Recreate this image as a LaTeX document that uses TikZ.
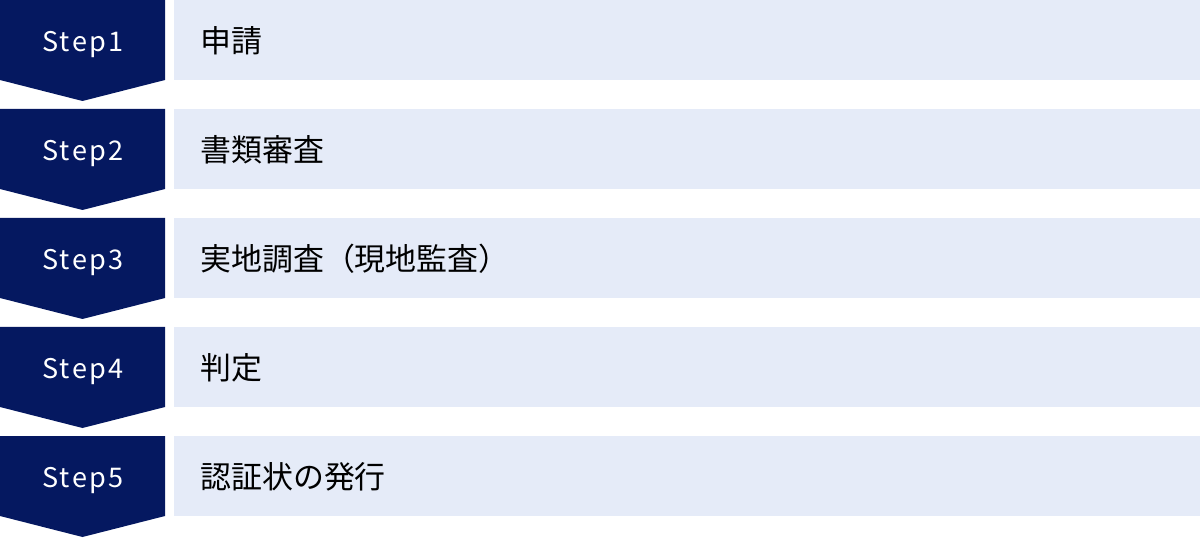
\documentclass[tikz,border=0pt]{standalone}
\usepackage{fontspec}
\setmainfont{Noto Sans CJK JP}
\newfontfamily\stepfont[LetterSpace=9]{Noto Sans CJK JP}
\usepackage{xcolor}
\usepackage{tikz}
\definecolor{stepnavy}{RGB}{5,24,96}
\definecolor{rowblue}{RGB}{229,235,248}

\begin{document}
\begin{tikzpicture}[x=0.75pt,y=0.75pt,yscale=-1,xscale=1]
\path (0,0) rectangle (1200,538); %set diagram size

%Shape: Chevron [id:step1]
\fill [stepnavy] (0,0) -- (165,0) -- (165,80) -- (82.5,101) -- (0,80) -- cycle ;
%Shape: Rectangle [id:row1]
\fill [rowblue] (174,0) rectangle (1200,80) ;
%Shape: Chevron [id:step2]
\fill [stepnavy] (0,109) -- (165,109) -- (165,189) -- (82.5,210) -- (0,189) -- cycle ;
%Shape: Rectangle [id:row2]
\fill [rowblue] (174,109) rectangle (1200,189) ;
%Shape: Chevron [id:step3]
\fill [stepnavy] (0,218) -- (165,218) -- (165,298) -- (82.5,319) -- (0,298) -- cycle ;
%Shape: Rectangle [id:row3]
\fill [rowblue] (174,218) rectangle (1200,298) ;
%Shape: Chevron [id:step4]
\fill [stepnavy] (0,327) -- (165,327) -- (165,407) -- (82.5,428) -- (0,407) -- cycle ;
%Shape: Rectangle [id:row4]
\fill [rowblue] (174,327) rectangle (1200,407) ;
%Shape: Chevron [id:step5]
\fill [stepnavy] (0,436) -- (165,436) -- (165,516) -- (82.5,537) -- (0,516) -- cycle ;
%Shape: Rectangle [id:row5]
\fill [rowblue] (174,436) rectangle (1200,516) ;

% Text Node
\draw (83,51.5) node (s1) [anchor=base, inner sep=0pt, text=white, font=\stepfont\fontsize{20.3}{24}\selectfont] {Step1};
% Text Node
\draw (83,160.5) node (s2) [anchor=base, inner sep=0pt, text=white, font=\stepfont\fontsize{20.3}{24}\selectfont] {Step2};
% Text Node
\draw (83,269.5) node (s3) [anchor=base, inner sep=0pt, text=white, font=\stepfont\fontsize{20.3}{24}\selectfont] {Step3};
% Text Node
\draw (83,378.5) node (s4) [anchor=base, inner sep=0pt, text=white, font=\stepfont\fontsize{20.3}{24}\selectfont] {Step4};
% Text Node
\draw (83,487.5) node (s5) [anchor=base, inner sep=0pt, text=white, font=\stepfont\fontsize{20.3}{24}\selectfont] {Step5};
% Text Node
\draw (200,41) node (t1) [anchor=west, inner sep=0pt, font=\fontsize{23.2}{27}\selectfont] {申請};
% Text Node
\draw (200,150) node (t2) [anchor=west, inner sep=0pt, font=\fontsize{23.2}{27}\selectfont] {書類審査};
% Text Node
\draw (200,259) node (t3) [anchor=west, inner sep=0pt, font=\fontsize{23.2}{27}\selectfont] {実地調査（現地監査）};
% Text Node
\draw (200,368) node (t4) [anchor=west, inner sep=0pt, font=\fontsize{23.2}{27}\selectfont] {判定};
% Text Node
\draw (200,477) node (t5) [anchor=west, inner sep=0pt, font=\fontsize{23.2}{27}\selectfont] {認証状の発行};
\end{tikzpicture}
\end{document}
